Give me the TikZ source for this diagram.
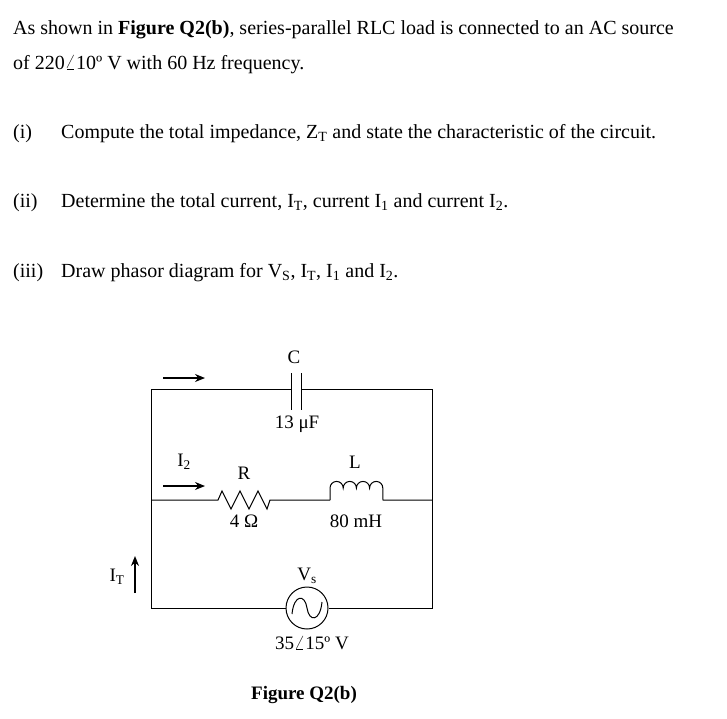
\documentclass[tikz,border=0pt]{standalone}
\usepackage{fontspec}
\setmainfont{Liberation Serif}
\usetikzlibrary{arrows.meta}
\begin{document}
\begin{tikzpicture}[x=1pt,y=-1pt,
  wire/.style={line width=1pt},
  cur/.style={line width=1.3pt,-{Stealth[length=10pt,width=8pt]}},
  txt/.style={anchor=base west,inner sep=0pt,font=\fontsize{20}{24}\selectfont},
  lab/.style={inner sep=0pt,font=\fontsize{19}{22}\selectfont}]
\useasboundingbox (0,0) rectangle (727,718);
\node[txt] (t1) at (13,34) {As shown in \textbf{Figure Q2(b)}, series-parallel RLC load is connected to an AC source};
\node[txt] (t2) at (13,69) {of 220$\angle$10º V with 60 Hz frequency.};
\node[txt] (a1) at (13,138) {(i)};
\node[txt] (b1) at (61,138) {Compute the total impedance, Z\textsubscript{T} and state the characteristic of the circuit.};
\node[txt] (a2) at (13,207) {(ii)};
\node[txt] (b2) at (61,207) {Determine the total current, I\textsubscript{T}, current I\textsubscript{1} and current I\textsubscript{2}.};
\node[txt] (a3) at (13,277) {(iii)};
\node[txt] (b3) at (61,277) {Draw phasor diagram for V\textsubscript{S}, I\textsubscript{T}, I\textsubscript{1} and I\textsubscript{2}.};
\coordinate (tl) at (151,389); \coordinate (tr) at (432,389);
\coordinate (ml) at (151,500); \coordinate (mr) at (432,500);
\coordinate (bl) at (151,608); \coordinate (br) at (432,608);
\coordinate (c1) at (291,389); \coordinate (c2) at (301,389);
\coordinate (r1) at (218,500); \coordinate (r2) at (270,500);
\coordinate (l1) at (330,500); \coordinate (l2) at (383,500);
\coordinate (ita) at (135,593); \coordinate (itb) at (135,556);
\node[circle,draw,line width=1pt,minimum size=42pt,inner sep=0pt] (src) at (307,608) {};
\draw[wire] (c1) -- (tl) -- (bl) -- (src.west);
\draw[wire] (src.east) -- (br) -- (tr) -- (c2);
\draw[wire] (291,373) -- (291,410) (301,373) -- (301,410);
\draw[wire] (ml) -- (r1) -- ++(4,-9) -- ++(9,18) -- ++(9,-18) -- ++(9,18) -- ++(9,-18) -- ++(9,18) -- (r2) -- (l1);
\draw[wire] (l1) -- ++(0,-12) arc[start angle=180,end angle=360,radius=6.6]
  arc[start angle=180,end angle=360,radius=6.6] arc[start angle=180,end angle=360,radius=6.6]
  arc[start angle=180,end angle=360,radius=6.6] -- (l2) -- (mr);
\begin{scope}[shift={(src.center)}]
\draw[wire] (-15,6) .. controls (-13,-14) and (-2,-14) .. (0,0) .. controls (2,14) and (13,14) .. (15,-6);
\end{scope}
\draw[cur] (163,378) -- (205,378);
\draw[cur] (163,486) -- (205,486);
\draw[cur] (ita) -- (itb);
\node[lab] (lc) at (294,357) {C};
\node[lab] (lcv) at (297,424) {13 μF};
\node[lab] (li2) at (184,462) {I\textsubscript{2}};
\node[lab] (lr) at (244,473) {R};
\node[lab] (lrv) at (244,521) {4 Ω};
\node[lab] (ll) at (355,462) {L};
\node[lab] (llv) at (356,521) {80 mH};
\node[lab] (lvs) at (307,576) {V\textsubscript{s}};
\node[lab] (lvv) at (312,643) {35$\angle$15º V};
\node[lab] (lit) at (117,577) {I\textsubscript{T}};
\node[lab,font=\fontsize{19}{22}\selectfont\bfseries] (fig) at (304,695) {Figure Q2(b)};
\end{tikzpicture}
\end{document}
